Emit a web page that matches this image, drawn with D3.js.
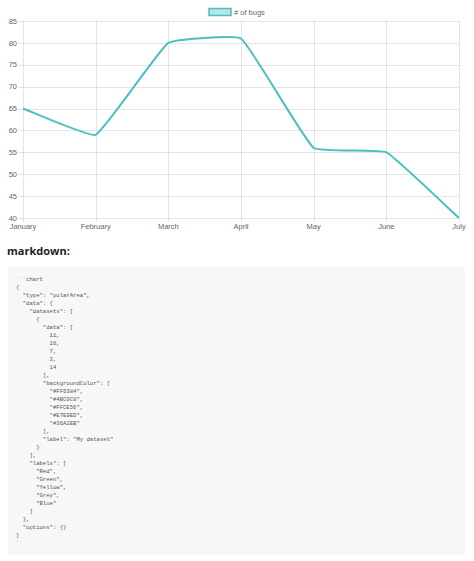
<!DOCTYPE html>
<html lang="en">
<head>
  <meta charset="UTF-8">
  <title># of bugs</title>
  <style>
body { margin: 0; background: #fff; }
svg { display: block; }
  </style>
</head>
<body>
  <div id="chart"></div>
  <script src="https://cdn.jsdelivr.net/npm/d3@7/dist/d3.min.js"></script>
  <script>
// chart data
const months = ["January", "February", "March", "April", "May", "June", "July"];
const bugs = [65, 59, 80, 81, 56, 55, 40];
const yTicks = [40, 45, 50, 55, 60, 65, 70, 75, 80, 85];
const seriesLabel = "# of bugs";

// markdown block shown under the chart
const codeLines = [
  "```chart",
  "{",
  "  \"type\": \"polarArea\",",
  "  \"data\": {",
  "    \"datasets\": [",
  "      {",
  "        \"data\": [",
  "          11,",
  "          16,",
  "          7,",
  "          3,",
  "          14",
  "        ],",
  "        \"backgroundColor\": [",
  "          \"#FF6384\",",
  "          \"#4BC0C0\",",
  "          \"#FFCE56\",",
  "          \"#E7E9ED\",",
  "          \"#36A2EB\"",
  "        ],",
  "        \"label\": \"My dataset\"",
  "      }",
  "    ],",
  "    \"labels\": [",
  "      \"Red\",",
  "      \"Green\",",
  "      \"Yellow\",",
  "      \"Grey\",",
  "      \"Blue\"",
  "    ]",
  "  },",
  "  \"options\": {}",
  "}",
  "```"
];

const width = 474, height = 561;
const teal = "rgb(75,192,192)";
const gridColor = "rgba(0,0,0,0.1)";
const labelFont = "'Liberation Sans', Arial, sans-serif";

const svg = d3.select("#chart").append("svg")
  .attr("width", width)
  .attr("height", height);

const x = d3.scalePoint()
  .domain(months)
  .range([23, 459]);

const y = d3.scaleLinear()
  .domain([40, 85])
  .range([218, 21]);

// horizontal grid
const grid = svg.append("g");
grid.selectAll("line.h")
  .data(yTicks)
  .join("line")
  .attr("class", "h")
  .attr("x1", 18)
  .attr("x2", 459)
  .attr("y1", d => Math.round(y(d)) + 0.5)
  .attr("y2", d => Math.round(y(d)) + 0.5)
  .attr("stroke", gridColor);

// vertical grid
grid.selectAll("line.v")
  .data(months)
  .join("line")
  .attr("class", "v")
  .attr("x1", d => Math.round(x(d)) + 0.5)
  .attr("x2", d => Math.round(x(d)) + 0.5)
  .attr("y1", 21)
  .attr("y2", 222)
  .attr("stroke", gridColor);

// y labels
svg.append("g")
  .selectAll("text")
  .data(yTicks)
  .join("text")
  .attr("x", 17)
  .attr("y", d => y(d))
  .attr("dy", "0.35em")
  .attr("text-anchor", "end")
  .attr("fill", "#666")
  .style("font-family", labelFont)
  .style("font-size", "7.5px")
  .text(d => d);

// x labels
svg.append("g")
  .selectAll("text")
  .data(months)
  .join("text")
  .attr("x", d => x(d))
  .attr("y", 229)
  .attr("text-anchor", "middle")
  .attr("fill", "#666")
  .style("font-family", labelFont)
  .style("font-size", "7.5px")
  .text(d => d);

// spline like chart.js does it (control points weighted by segment length)
function splinePath(pts, t) {
  const p = d3.path();
  const ctrl = pts.map((cur, i) => {
    const prev = pts[i - 1] || cur, next = pts[i + 1] || cur;
    const d01 = Math.hypot(cur[0] - prev[0], cur[1] - prev[1]);
    const d12 = Math.hypot(next[0] - cur[0], next[1] - cur[1]);
    let s01 = d01 / (d01 + d12), s12 = d12 / (d01 + d12);
    if (isNaN(s01)) s01 = 0;
    if (isNaN(s12)) s12 = 0;
    const fa = t * s01, fb = t * s12;
    return {
      prev: [cur[0] - fa * (next[0] - prev[0]), cur[1] - fa * (next[1] - prev[1])],
      next: [cur[0] + fb * (next[0] - prev[0]), cur[1] + fb * (next[1] - prev[1])]
    };
  });
  p.moveTo(pts[0][0], pts[0][1]);
  for (let i = 1; i < pts.length; i++) {
    p.bezierCurveTo(ctrl[i - 1].next[0], ctrl[i - 1].next[1],
      ctrl[i].prev[0], ctrl[i].prev[1], pts[i][0], pts[i][1]);
  }
  return p.toString();
}

const points = bugs.map((v, i) => [x(months[i]), y(v)]);

svg.append("path")
  .attr("fill", "none")
  .attr("stroke", teal)
  .attr("stroke-width", 2)
  .attr("stroke-linejoin", "round")
  .attr("d", splinePath(points, 0.1));

// legend
svg.append("rect")
  .attr("x", 209)
  .attr("y", 8.5)
  .attr("width", 22)
  .attr("height", 7)
  .attr("fill", "rgba(75,192,192,0.4)")
  .attr("stroke", teal)
  .attr("stroke-width", 1.5);

svg.append("text")
  .attr("x", 234)
  .attr("y", 12)
  .attr("dy", "0.35em")
  .attr("fill", "#666")
  .style("font-family", labelFont)
  .style("font-size", "7.5px")
  .text(seriesLabel);

// markdown heading
svg.append("text")
  .attr("x", 7)
  .attr("y", 255)
  .attr("fill", "#222")
  .style("font-family", "'Open Sans', sans-serif")
  .style("font-weight", "bold")
  .style("font-size", "11px")
  .text("markdown:");

// code block
svg.append("rect")
  .attr("x", 8)
  .attr("y", 267)
  .attr("width", 457)
  .attr("height", 288)
  .attr("rx", 3)
  .attr("fill", "#f7f7f7");

svg.append("g")
  .selectAll("text")
  .data(codeLines)
  .join("text")
  .attr("x", 16)
  .attr("y", (d, i) => 281 + i * 8.0)
  .attr("fill", "#555")
  .style("font-family", "'Liberation Mono', 'DejaVu Sans Mono', monospace")
  .style("font-size", "5.6px")
  .style("white-space", "pre")
  .text(d => d);
  </script>
</body>
</html>
